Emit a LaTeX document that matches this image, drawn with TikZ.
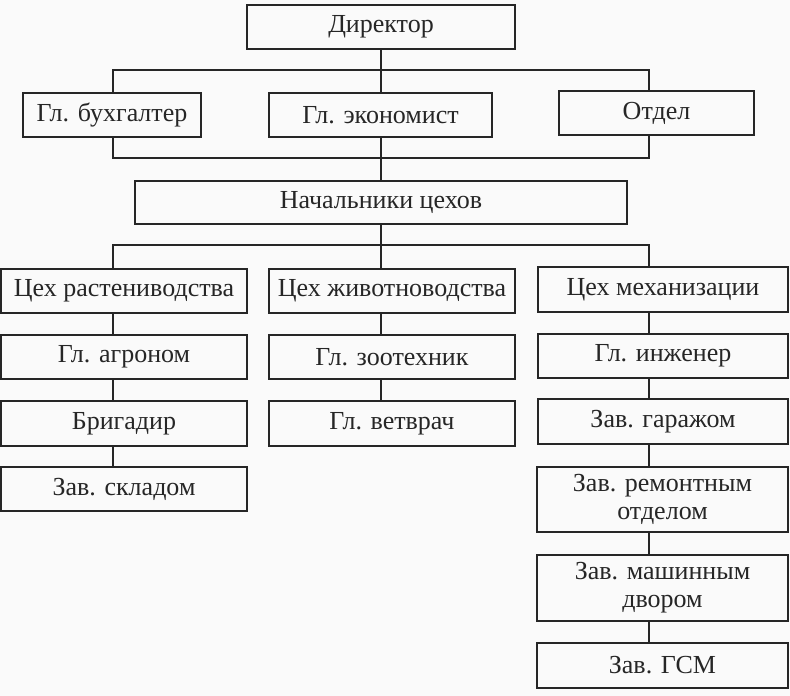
\documentclass[tikz,border=0pt]{standalone}
\usepackage{fontspec}
\setmainfont{Liberation Serif}
\begin{document}
\begin{tikzpicture}[x=1pt,y=-1pt,
  box/.style={draw=black!85, line width=1.4pt, rectangle, inner sep=0pt, align=center,
    font=\fontsize{26}{28}\selectfont, text=black!85},
  conn/.style={draw=black!85, line width=1.3pt}]
\fill[black!2] (0,0) rectangle (790,696);
\useasboundingbox (0,0) rectangle (790,696);
% boxes
\node[box, minimum width=268pt, minimum height=44pt] (dir) at (381,27) {Директор};
\node[box, minimum width=178pt, minimum height=44pt] (buh) at (112,115) {Гл. бухгалтер};
\node[box, minimum width=223pt, minimum height=44pt] (econ) at (380.5,115) {Гл. экономист};
\node[box, minimum width=195pt, minimum height=44pt] (otd) at (656.5,113) {Отдел};
\node[box, minimum width=492pt, minimum height=43pt] (nach) at (381,202.5) {Начальники цехов};
\node[box, minimum width=246pt, minimum height=44pt] (c1) at (124,291) {Цех растениводства};
\node[box, minimum width=246pt, minimum height=44pt] (c2) at (392,291) {Цех животноводства};
\node[box, minimum width=250pt, minimum height=45pt] (c3) at (663,289.5) {Цех механизации};
\node[box, minimum width=246pt, minimum height=44pt] (agr) at (124,357) {Гл. агроном};
\node[box, minimum width=246pt, minimum height=45pt] (brig) at (124,423.5) {Бригадир};
\node[box, minimum width=246pt, minimum height=44pt] (skl) at (124,489) {Зав. складом};
\node[box, minimum width=246pt, minimum height=44pt] (zoo) at (392,357) {Гл. зоотехник};
\node[box, minimum width=246pt, minimum height=45pt] (vet) at (392,423.5) {Гл. ветврач};
\node[box, minimum width=250pt, minimum height=44pt] (ing) at (663,356) {Гл. инженер};
\node[box, minimum width=250pt, minimum height=45pt] (gar) at (663,421.5) {Зав. гаражом};
\node[box, minimum width=251pt, minimum height=65pt] (rem) at (662.5,499.5) {Зав. ремонтным\\отделом};
\node[box, minimum width=251pt, minimum height=66pt] (mash) at (662.5,588) {Зав. машинным\\двором};
\node[box, minimum width=251pt, minimum height=45pt] (gsm) at (662.5,665.5) {Зав. ГСМ};
% guide coordinates
\coordinate (L) at (113,0);
\coordinate (M) at (381,0);
\coordinate (R) at (649,0);
\coordinate (h1) at (0,70);
\coordinate (h2) at (0,158);
\coordinate (h3) at (0,245);
% top level
\draw[conn] (M |- dir.south) -- (M |- econ.north);
\draw[conn] (L |- buh.north) -- (L |- h1) -- (R |- h1) -- (R |- otd.north);
\draw[conn] (L |- buh.south) -- (L |- h2) -- (R |- h2) -- (R |- otd.south);
\draw[conn] (M |- econ.south) -- (M |- nach.north);
% workshops
\draw[conn] (M |- nach.south) -- (M |- c2.north);
\draw[conn] (L |- c1.north) -- (L |- h3) -- (R |- h3) -- (R |- c3.north);
% columns
\draw[conn] (L |- c1.south) -- (L |- agr.north);
\draw[conn] (L |- agr.south) -- (L |- brig.north);
\draw[conn] (L |- brig.south) -- (L |- skl.north);
\draw[conn] (M |- c2.south) -- (M |- zoo.north);
\draw[conn] (M |- zoo.south) -- (M |- vet.north);
\draw[conn] (R |- c3.south) -- (R |- ing.north);
\draw[conn] (R |- ing.south) -- (R |- gar.north);
\draw[conn] (R |- gar.south) -- (R |- rem.north);
\draw[conn] (R |- rem.south) -- (R |- mash.north);
\draw[conn] (R |- mash.south) -- (R |- gsm.north);
\end{tikzpicture}
\end{document}
